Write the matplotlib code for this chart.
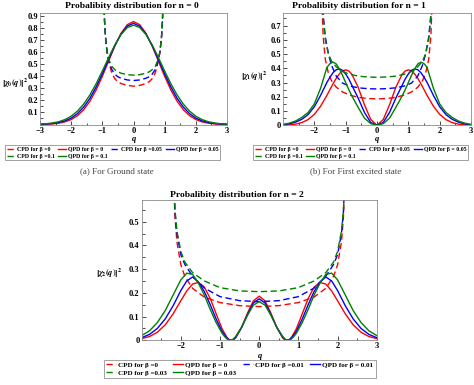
import matplotlib
matplotlib.use('Agg')
import matplotlib.pyplot as plt
from matplotlib.lines import Line2D
from matplotlib.ticker import MultipleLocator

plt.rcParams['font.family'] = ['Liberation Serif', 'DejaVu Serif']
plt.rcParams['font.weight'] = 'bold'
plt.rcParams['mathtext.fontset'] = 'stix'

# ---------------- data: panel (a), n = 0 ----------------
q_n0 = [-3.0, -2.8, -2.6, -2.4, -2.2, -2.0, -1.8, -1.6, -1.4, -1.2, -1.0, -0.8, -0.6, -0.4, -0.2, 0.0,
        0.2, 0.4, 0.6, 0.8, 1.0, 1.2, 1.4, 1.6, 1.8, 2.0, 2.2, 2.4, 2.6, 2.8, 3.0]
qpd_n0_b0 = [0.001, 0.002, 0.005, 0.011, 0.022, 0.041, 0.073, 0.122, 0.193, 0.286, 0.400, 0.526, 0.650, 0.757, 0.829, 0.855,
             0.829, 0.757, 0.650, 0.526, 0.400, 0.286, 0.193, 0.122, 0.073, 0.041, 0.022, 0.011, 0.005, 0.002, 0.001]
qpd_n0_b005 = [0.002, 0.004, 0.008, 0.016, 0.030, 0.053, 0.090, 0.144, 0.217, 0.311, 0.421, 0.540, 0.655, 0.752, 0.817, 0.840,
               0.817, 0.752, 0.655, 0.540, 0.421, 0.311, 0.217, 0.144, 0.090, 0.053, 0.030, 0.016, 0.008, 0.004, 0.002]
qpd_n0_b01 = [0.003, 0.006, 0.013, 0.023, 0.041, 0.069, 0.111, 0.169, 0.245, 0.338, 0.444, 0.555, 0.660, 0.747, 0.805, 0.825,
              0.805, 0.747, 0.660, 0.555, 0.444, 0.338, 0.245, 0.169, 0.111, 0.069, 0.041, 0.023, 0.013, 0.006, 0.003]
qc_n0 = [-0.96, -0.93, -0.90, -0.85, -0.80, -0.70, -0.60, -0.50, -0.40, -0.20, 0.0,
         0.20, 0.40, 0.50, 0.60, 0.70, 0.80, 0.85, 0.90, 0.93, 0.96]
cpd_n0_b0 = [1.136, 0.865, 0.730, 0.604, 0.530, 0.430, 0.380, 0.355, 0.340, 0.325, 0.318,
             0.325, 0.340, 0.355, 0.380, 0.430, 0.530, 0.604, 0.730, 0.865, 1.136]
cpd_n0_b005 = [1.136, 0.865, 0.730, 0.606, 0.536, 0.458, 0.418, 0.396, 0.384, 0.370, 0.365,
               0.370, 0.384, 0.396, 0.418, 0.458, 0.536, 0.606, 0.730, 0.865, 1.136]
cpd_n0_b01 = [1.137, 0.866, 0.732, 0.610, 0.545, 0.484, 0.455, 0.437, 0.426, 0.414, 0.410,
              0.414, 0.426, 0.437, 0.455, 0.484, 0.545, 0.610, 0.732, 0.866, 1.137]

# ---------------- data: panel (b), n = 1 ----------------
q_n1 = [-3.0, -2.8, -2.6, -2.4, -2.2, -2.0, -1.8, -1.6, -1.5, -1.4, -1.3, -1.2, -1.1, -1.0, -0.9, -0.8, -0.6, -0.4,
        -0.2, 0.0, 0.2, 0.4, 0.6, 0.8, 0.9, 1.0, 1.1, 1.2, 1.3, 1.4, 1.5, 1.6, 1.8, 2.0, 2.2, 2.4, 2.6, 2.8, 3.0]
qpd_n1_b0 = [0.001, 0.003, 0.008, 0.019, 0.040, 0.077, 0.134, 0.209, 0.251, 0.292, 0.330, 0.361, 0.381, 0.389, 0.381,
             0.357, 0.266, 0.144, 0.041, 0.0, 0.041, 0.144, 0.266, 0.357, 0.381, 0.389, 0.381, 0.361, 0.330, 0.292,
             0.251, 0.209, 0.134, 0.077, 0.040, 0.019, 0.008, 0.003, 0.001]
qpd_n1_b005 = [0.004, 0.010, 0.022, 0.042, 0.075, 0.130, 0.210, 0.300, 0.338, 0.370, 0.390, 0.396, 0.386, 0.360, 0.325,
               0.280, 0.190, 0.090, 0.020, 0.0, 0.020, 0.090, 0.190, 0.280, 0.325, 0.360, 0.386, 0.396, 0.390, 0.370,
               0.338, 0.300, 0.210, 0.130, 0.075, 0.042, 0.022, 0.010, 0.004]
qpd_n1_b01 = [0.006, 0.015, 0.030, 0.055, 0.090, 0.150, 0.260, 0.405, 0.433, 0.443, 0.430, 0.395, 0.350, 0.300, 0.250,
              0.205, 0.125, 0.050, 0.012, 0.0, 0.012, 0.050, 0.125, 0.205, 0.250, 0.300, 0.350, 0.395, 0.430, 0.443,
              0.433, 0.405, 0.260, 0.150, 0.090, 0.055, 0.030, 0.015, 0.006]
qc_n1 = [-1.79, -1.76, -1.72, -1.65, -1.55, -1.45, -1.30, -1.10, -0.90, -0.60, -0.30, 0.0,
         0.30, 0.60, 0.90, 1.10, 1.30, 1.45, 1.55, 1.65, 1.72, 1.76, 1.79]
cpd_n1_b0 = [1.76, 0.883, 0.627, 0.463, 0.364, 0.312, 0.267, 0.234, 0.214, 0.196, 0.188, 0.185,
             0.188, 0.196, 0.214, 0.234, 0.267, 0.312, 0.364, 0.463, 0.627, 0.883, 1.76]
cpd_n1_b005 = [1.8, 1.0, 0.78, 0.62, 0.50, 0.42, 0.345, 0.296, 0.277, 0.263, 0.257, 0.255,
               0.257, 0.263, 0.277, 0.296, 0.345, 0.42, 0.50, 0.62, 0.78, 1.0, 1.8]
cpd_n1_b01 = [1.8, 1.0, 0.76, 0.60, 0.50, 0.45, 0.41, 0.378, 0.36, 0.345, 0.339, 0.337,
              0.339, 0.345, 0.36, 0.378, 0.41, 0.45, 0.50, 0.60, 0.76, 1.0, 1.8]

# ---------------- data: panel (c), n = 2 ----------------
q_n2_b0 = [-3.0, -2.8, -2.6, -2.4, -2.2, -2.0, -1.85, -1.7, -1.55, -1.4, -1.25, -1.1, -0.95, -0.82, -0.76, -0.71, -0.66,
           -0.6, -0.45, -0.3, -0.15, 0.0, 0.15, 0.3, 0.45, 0.6, 0.66, 0.71, 0.76, 0.82, 0.95, 1.1, 1.25, 1.4, 1.55,
           1.7, 1.85, 2.0, 2.2, 2.4, 2.6, 2.8, 3.0]
qpd_n2_b0 = [0.007, 0.016, 0.034, 0.065, 0.111, 0.167, 0.208, 0.237, 0.244, 0.224, 0.176, 0.112, 0.049, 0.011, 0.0025, 0.0,
             0.002, 0.010, 0.054, 0.114, 0.166, 0.186, 0.166, 0.114, 0.054, 0.010, 0.002, 0.0, 0.0025, 0.011, 0.049,
             0.112, 0.176, 0.224, 0.244, 0.237, 0.208, 0.167, 0.111, 0.065, 0.034, 0.016, 0.007]
q_n2_b001 = [-3.0, -2.8, -2.6, -2.4, -2.2, -2.0, -1.85, -1.7, -1.55, -1.4, -1.25, -1.1, -0.95, -0.86, -0.78, -0.72, -0.66,
             -0.6, -0.45, -0.3, -0.15, 0.0, 0.15, 0.3, 0.45, 0.6, 0.66, 0.72, 0.78, 0.86, 0.95, 1.1, 1.25, 1.4, 1.55,
             1.7, 1.85, 2.0, 2.2, 2.4, 2.6, 2.8, 3.0]
qpd_n2_b001 = [0.011, 0.025, 0.050, 0.090, 0.145, 0.210, 0.250, 0.267, 0.245, 0.205, 0.150, 0.090, 0.038, 0.017, 0.003, 0.0,
               0.003, 0.013, 0.054, 0.108, 0.157, 0.175, 0.157, 0.108, 0.054, 0.013, 0.003, 0.0, 0.003, 0.017, 0.038,
               0.090, 0.150, 0.205, 0.245, 0.267, 0.250, 0.210, 0.145, 0.090, 0.050, 0.025, 0.011]
q_n2_b003 = [-3.0, -2.8, -2.6, -2.4, -2.2, -2.0, -1.85, -1.7, -1.55, -1.4, -1.25, -1.1, -0.95, -0.88, -0.81, -0.74, -0.67,
             -0.6, -0.45, -0.3, -0.15, 0.0, 0.15, 0.3, 0.45, 0.6, 0.67, 0.74, 0.81, 0.88, 0.95, 1.1, 1.25, 1.4, 1.55,
             1.7, 1.85, 2.0, 2.2, 2.4, 2.6, 2.8, 3.0]
qpd_n2_b003 = [0.020, 0.040, 0.075, 0.125, 0.190, 0.255, 0.283, 0.278, 0.240, 0.190, 0.130, 0.075, 0.030, 0.015, 0.004, 0.0,
               0.004, 0.016, 0.055, 0.105, 0.148, 0.163, 0.148, 0.105, 0.055, 0.016, 0.004, 0.0, 0.004, 0.015, 0.030,
               0.075, 0.130, 0.190, 0.240, 0.278, 0.283, 0.255, 0.190, 0.125, 0.075, 0.040, 0.020]
qc_n2 = [-2.23, -2.21, -2.19, -2.15, -2.1, -2.0, -1.9, -1.7, -1.4, -1.0, -0.5, 0.0,
         0.5, 1.0, 1.4, 1.7, 1.9, 2.0, 2.1, 2.15, 2.19, 2.21, 2.23]
cpd_n2_b0 = [1.93, 0.934, 0.704, 0.518, 0.414, 0.318, 0.270, 0.219, 0.182, 0.159, 0.146, 0.142,
             0.146, 0.159, 0.182, 0.219, 0.270, 0.318, 0.414, 0.518, 0.704, 0.934, 1.93]
cpd_n2_b001 = [1.9, 0.92, 0.70, 0.54, 0.45, 0.36, 0.32, 0.27, 0.22, 0.184, 0.167, 0.163,
               0.167, 0.184, 0.22, 0.27, 0.32, 0.36, 0.45, 0.54, 0.70, 0.92, 1.9]
cpd_n2_b003 = [1.9, 0.92, 0.70, 0.55, 0.46, 0.374, 0.33, 0.285, 0.25, 0.222, 0.208, 0.205,
               0.208, 0.222, 0.25, 0.285, 0.33, 0.374, 0.46, 0.55, 0.70, 0.92, 1.9]

labels_n01 = ["CPD for β =0", "QPD for β = 0", "CPD for β =0.05", "QPD for β = 0.05",
              "CPD for β =0.1", "QPD for β = 0.1"]
labels_n2 = ["CPD for β =0", "QPD for β = 0", "CPD for β =0.01", "QPD for β = 0.01",
             "CPD for β =0.03", "QPD for β = 0.03"]
titles = ["Probalibity distribution for n = 0", "Probalibity distribution for n = 1",
          "Probalibity distribution for n = 2"]
captions = ["(a) For Ground state", "(b) For First excited state"]

RED, BLUE, GREEN = '#ff0000', '#0000ff', '#008000'
DASH = (4.5, 2.5)
LW = 1.0

W, H = 474, 385
fig = plt.figure(figsize=(W / 100, H / 100), dpi=100)


def axes_px(l, t, r, b):
    return fig.add_axes([l / W, 1 - b / H, (r - l) / W, (b - t) / H])


def fx(x):
    return x / W


def fy(y):
    return 1 - y / H


def style(ax, ymax, yticks, xticks):
    ax.set_xlim(-3, 3)
    ax.set_ylim(0, ymax)
    ax.set_xticks(xticks)
    ax.set_yticks(yticks)
    ax.set_yticklabels([f"{v:g}" for v in yticks])
    ax.xaxis.set_minor_locator(MultipleLocator(0.5))
    ax.yaxis.set_minor_locator(MultipleLocator(0.05))
    ax.tick_params(which='both', direction='in', width=0.5, labelsize=6, pad=1.5,
                   top=False, right=False)
    ax.tick_params(which='major', length=3)
    ax.tick_params(which='minor', length=1.8)
    for s in ax.spines.values():
        s.set_linewidth(0.6)
        s.set_color('#8a8a8a')


def draw(ax, curves):
    for x, y, c, dashed in curves:
        if dashed:
            ax.plot(x, y, color=c, lw=LW, dashes=DASH)
        else:
            ax.plot(x, y, color=c, lw=LW)


def legend(ax, labels, left, top, fs, colsp):
    h = [Line2D([], [], color=RED, lw=LW, dashes=DASH), Line2D([], [], color=RED, lw=LW),
         Line2D([], [], color=BLUE, lw=LW, dashes=DASH), Line2D([], [], color=BLUE, lw=LW),
         Line2D([], [], color=GREEN, lw=LW, dashes=DASH), Line2D([], [], color=GREEN, lw=LW)]
    order = [0, 4, 1, 5, 2, 3]
    leg = ax.legend([h[i] for i in order], [labels[i] for i in order], loc='upper left',
                    bbox_to_anchor=(fx(left), fy(top)), bbox_transform=fig.transFigure,
                    ncol=4, fontsize=fs, frameon=True, fancybox=False, borderpad=0.3,
                    labelspacing=0.3, handlelength=1.4, handletextpad=0.3,
                    columnspacing=colsp, borderaxespad=0)
    leg.get_frame().set_edgecolor('#777777')
    leg.get_frame().set_linewidth(0.6)


# ---------------- panel (a) ----------------
ax_a = axes_px(40, 12.5, 227, 124.5)
draw(ax_a, [(qc_n0, cpd_n0_b0, RED, True), (q_n0, qpd_n0_b0, RED, False),
            (qc_n0, cpd_n0_b005, BLUE, True), (q_n0, qpd_n0_b005, BLUE, False),
            (qc_n0, cpd_n0_b01, GREEN, True), (q_n0, qpd_n0_b01, GREEN, False)])
style(ax_a, 0.93, [0.1, 0.2, 0.3, 0.4, 0.5, 0.6, 0.7, 0.8, 0.9], [-3, -2, -1, 0, 1, 2, 3])
legend(ax_a, labels_n01, 5, 145, 4.2, 0.6)

# ---------------- panel (b) ----------------
ax_b = axes_px(283, 12.7, 471, 125.3)
draw(ax_b, [(qc_n1, cpd_n1_b0, RED, True), (q_n1, qpd_n1_b0, RED, False),
            (qc_n1, cpd_n1_b005, BLUE, True), (q_n1, qpd_n1_b005, BLUE, False),
            (qc_n1, cpd_n1_b01, GREEN, True), (q_n1, qpd_n1_b01, GREEN, False)])
style(ax_b, 0.79, [0, 0.1, 0.2, 0.3, 0.4, 0.5, 0.6, 0.7], [-2, -1, 0, 1, 2, 3])
legend(ax_b, labels_n01, 253, 145, 4.2, 0.6)

# ---------------- panel (c) ----------------
ax_c = axes_px(141.7, 200.3, 376.7, 340.3)
draw(ax_c, [(qc_n2, cpd_n2_b0, RED, True), (q_n2_b0, qpd_n2_b0, RED, False),
            (qc_n2, cpd_n2_b001, BLUE, True), (q_n2_b001, qpd_n2_b001, BLUE, False),
            (qc_n2, cpd_n2_b003, GREEN, True), (q_n2_b003, qpd_n2_b003, GREEN, False)])
style(ax_c, 0.59, [0, 0.1, 0.2, 0.3, 0.4, 0.5], [-2, -1, 0, 1, 2, 3])
legend(ax_c, labels_n2, 104, 359.5, 5.1, 0.9)

# ---------------- texts ----------------
tkw = dict(ha='center', va='center', fontsize=6.8, fontweight='bold')
fig.text(fx(132), fy(5.5), titles[0], **tkw)
fig.text(fx(359), fy(5.5), titles[1], **tkw)
fig.text(fx(237), fy(195), titles[2], **tkw)

ykw = dict(ha='center', va='center', fontsize=6)
fig.text(fx(15), fy(83), r'$\left|\chi_0(q)\right|^2$', **ykw)
fig.text(fx(254), fy(76), r'$\left|\chi_1(q)\right|^2$', **ykw)
fig.text(fx(109), fy(273), r'$\left|\chi_2(q)\right|^2$', **ykw)

xkw = dict(ha='center', va='center', fontsize=6, fontstyle='italic')
fig.text(fx(133.7), fy(139), 'q', **xkw)
fig.text(fx(377.3), fy(139), 'q', **xkw)
fig.text(fx(260), fy(355.5), 'q', **xkw)

ckw = dict(ha='center', va='center', fontsize=6.5, fontweight='normal', color='#444444')
fig.text(fx(117), fy(171), captions[0], **ckw)
fig.text(fx(356), fy(171), captions[1], **ckw)

fig.savefig('out.png', dpi=100)
